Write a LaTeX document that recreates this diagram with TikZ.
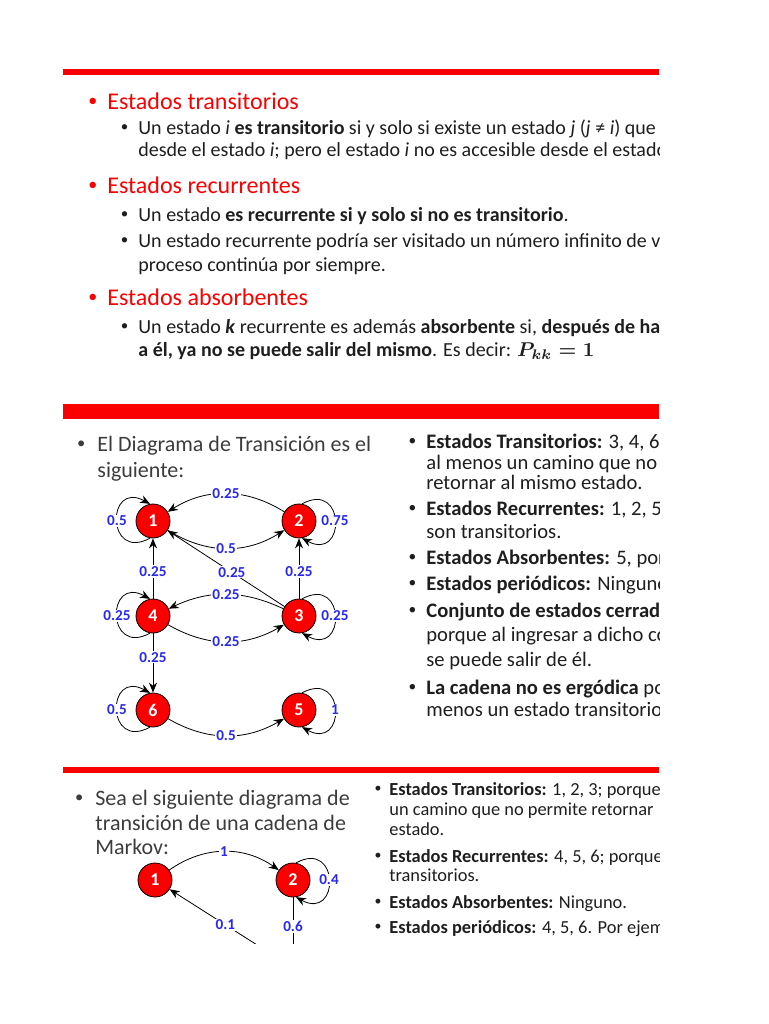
\documentclass[tikz,border=0pt]{standalone}
\usepackage{amsmath}
\usepackage{fontspec}
\setmainfont{Carlito}
\usetikzlibrary{arrows.meta}
\definecolor{rojo}{RGB}{250,0,0}
\definecolor{azul}{RGB}{40,40,240}
\definecolor{texto}{RGB}{30,30,30}
\definecolor{gris}{RGB}{60,60,60}
\newcommand{\fsz}[1]{\fontsize{#1pt}{#1pt}\selectfont}
\newcommand{\punto}[1]{\llap{\raisebox{0.12em}{\scalebox{0.75}{\textbullet}}\hspace{#1}}}

\begin{document}
\begin{tikzpicture}[x=0.5pt,y=0.5pt,>={Stealth[length=5pt,width=4pt]},
  estado/.style={circle,draw=black,fill=rojo,minimum size=17pt,inner sep=0pt,text=white,font=\fsz{9}\bfseries},
  prob/.style={fill=white,inner sep=0.5pt,text=azul,font=\fsz{7.6}\bfseries},
  titulo/.style={anchor=base west,inner sep=0pt,text=rojo,font=\fsz{12}},
  linea/.style={anchor=base west,inner sep=0pt,text=texto,font=\fsz{10}},
  linead/.style={anchor=base west,inner sep=0pt,text=texto,font=\fsz{10.3}},
  lineab/.style={anchor=base west,inner sep=0pt,text=gris,font=\fsz{11}},
  lineac/.style={anchor=base west,inner sep=0pt,text=texto,font=\fsz{9.2}},
  barra/.style={fill=rojo}]
\useasboundingbox (0,0) rectangle (768,-1024);
\begin{scope}
\clip (0,0) rectangle (659,-943);

%% Diapositiva 1
\fill[barra] (63,-69) rectangle (659,-75);
\node[titulo] (h1) at (107,-109) {\punto{5pt}Estados transitorios};
\node[linea] (a1) at (138,-134) {\punto{5pt}Un estado \textit{i} \textbf{es transitorio} si y solo si existe un estado \textit{j} (\textit{j} ≠ \textit{i}) que};
\node[linea] (a2) at (138,-156) {desde el estado \textit{i}; pero el estado \textit{i} no es accesible desde el estado};
\node[titulo] (h2) at (107,-193) {\punto{5pt}Estados recurrentes};
\node[linea] (b1) at (138,-221) {\punto{5pt}Un estado \textbf{es recurrente si y solo si no es transitorio}.};
\node[linea] (b2) at (138,-247) {\punto{5pt}Un estado recurrente podría ser visitado un número infinito de ve};
\node[linea] (b3) at (138,-271) {proceso continúa por siempre.};
\node[titulo] (h3) at (107,-305) {\punto{5pt}Estados absorbentes};
\node[linea] (c1) at (138,-333) {\punto{5pt}Un estado \textbf{\textit{k}} recurrente es además \textbf{absorbente} si, \textbf{después de hab}};
\node[linea] (c2) at (138,-356) {\textbf{a él, ya no se puede salir del mismo}. Es decir: $\boldsymbol{P_{kk} = 1}$};

%% Diapositiva 2
\fill[barra] (63,-404) rectangle (659,-419);
\node[lineab] (d1) at (97,-451) {\punto{6pt}El Diagrama de Transición es el};
\node[lineab] (d2) at (97,-477) {siguiente:};

\node[estado] (n1) at (153,-521) {1};
\node[estado] (n2) at (299,-521) {2};
\node[estado] (n4) at (153,-616) {4};
\node[estado] (n3) at (299,-616) {3};
\node[estado] (n6) at (153,-710) {6};
\node[estado] (n5) at (299,-710) {5};

\draw[->] (n2) to[bend right=32] node[prob]{0.25} (n1);
\draw[->] (n1) to[bend right=32] node[prob]{0.5} (n2);
\draw[->] (n1.-100) .. controls +(-44,-24) and +(-44,24) .. node[prob]{0.5} (n1.100);
\draw[->] (n2.80) .. controls +(44,24) and +(44,-24) .. node[prob]{0.75} (n2.-80);
\draw[->] (n4) -- node[prob,pos=0.45]{0.25} (n1);
\draw[->] (n3) -- node[prob,pos=0.45]{0.25} (n1);
\draw[->] (n3) -- node[prob,pos=0.45]{0.25} (n2);
\draw[->] (n3) to[bend right=25] node[prob]{0.25} (n4);
\draw[->] (n4) to[bend right=30] node[prob]{0.25} (n3);
\draw[->] (n4.-100) .. controls +(-44,-24) and +(-44,24) .. node[prob]{0.25} (n4.100);
\draw[->] (n3.80) .. controls +(44,24) and +(44,-24) .. node[prob]{0.25} (n3.-80);
\draw[->] (n4) -- node[prob,pos=0.4]{0.25} (n6);
\draw[->] (n6.-100) .. controls +(-44,-24) and +(-44,24) .. node[prob]{0.5} (n6.100);
\draw[->] (n6) to[bend right=30] node[prob]{0.5} (n5);
\draw[->] (n5.80) .. controls +(44,24) and +(44,-24) .. node[prob]{1} (n5.-80);

\node[linead] (e1) at (426,-448) {\punto{5pt}\textbf{Estados Transitorios:} 3, 4, 6,};
\node[linead] (e2) at (426,-469) {al menos un camino que no};
\node[linead] (e3) at (426,-489) {retornar al mismo estado.};
\node[linead] (e4) at (426,-515) {\punto{5pt}\textbf{Estados Recurrentes:} 1, 2, 5};
\node[linead] (e5) at (426,-538) {son transitorios.};
\node[linead] (e6) at (426,-564) {\punto{5pt}\textbf{Estados Absorbentes:} 5, por};
\node[linead] (e7) at (426,-590) {\punto{5pt}\textbf{Estados periódicos:} Ninguno};
\node[linead] (e8) at (426,-617) {\punto{5pt}\textbf{Conjunto de estados cerrado}};
\node[linead] (e9) at (426,-641) {porque al ingresar a dicho con};
\node[linead] (e10) at (426,-666) {se puede salir de él.};
\node[linead] (e11) at (426,-694) {\punto{5pt}\textbf{La cadena no es ergódica} por};
\node[linead] (e12) at (426,-716) {menos un estado transitorio};

%% Diapositiva 3
\fill[barra] (63,-767) rectangle (659,-773);
\node[lineab] (f1) at (95,-805) {\punto{6pt}Sea el siguiente diagrama de};
\node[lineab] (f2) at (95,-830) {transición de una cadena de};
\node[lineab] (f3) at (95,-854) {Markov:};

\node[estado] (m1) at (155,-880) {1};
\node[estado] (m2) at (293,-880) {2};
\coordinate (bajo2) at (293,-995);
\coordinate (bajo1) at (320,-985);

\draw[->] (m1) to[bend left=35] node[prob]{1} (m2);
\draw[->] (m2.80) .. controls +(44,24) and +(44,-24) .. node[prob]{0.4} (m2.-80);
\draw[->] (m2) -- node[prob,pos=0.3]{0.6} (bajo2);
\draw[->] (bajo1) -- node[prob,pos=0.63]{0.1} (m1);

\node[lineac] (g1) at (389,-795) {\punto{4pt}\textbf{Estados Transitorios:} 1, 2, 3; porque};
\node[lineac] (g2) at (389,-815) {un camino que no permite retornar};
\node[lineac] (g3) at (389,-835) {estado.};
\node[lineac] (g4) at (389,-862) {\punto{4pt}\textbf{Estados Recurrentes:} 4, 5, 6; porque};
\node[lineac] (g5) at (389,-881) {transitorios.};
\node[lineac] (g6) at (389,-908) {\punto{4pt}\textbf{Estados Absorbentes:} Ninguno.};
\node[lineac] (g7) at (389,-933) {\punto{4pt}\textbf{Estados periódicos:} 4, 5, 6. Por ejem};
\end{scope}
\end{tikzpicture}
\end{document}
